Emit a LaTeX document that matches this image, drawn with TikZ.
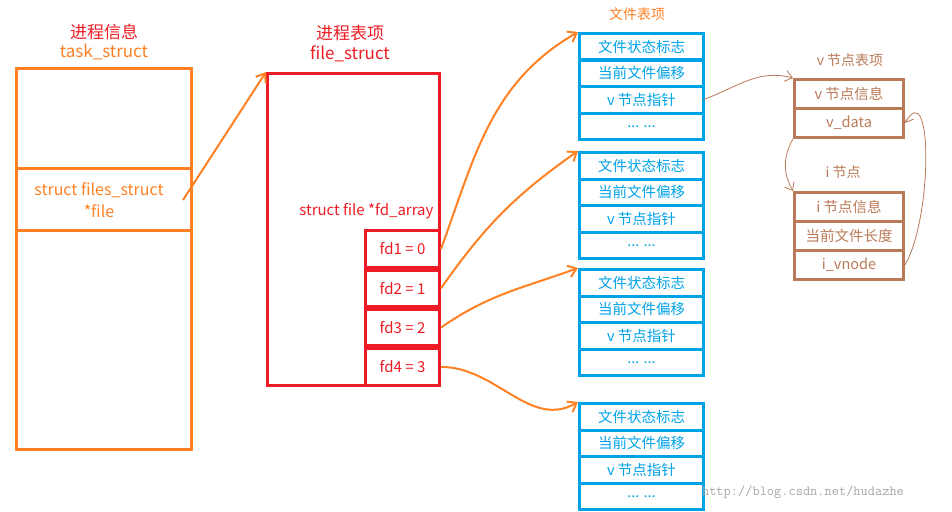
\documentclass[tikz,border=0pt]{standalone}
\usepackage{fontspec}
\setmainfont{Noto Sans CJK SC}
\usepackage{tikz}
\usetikzlibrary{arrows.meta,positioning}
\definecolor{Procorange}{HTML}{FF8124}
\definecolor{Procred}{HTML}{ED1C24}
\definecolor{Fileblue}{HTML}{00A2E8}
\definecolor{Nodebrown}{HTML}{B97A57}
\tikzset{
    cell/.style={draw, line width=3pt, minimum width=124pt, minimum height=26.5pt, inner sep=0pt, font=\fontsize{14.5}{14.5}\selectfont},
    bluecell/.style={cell, Fileblue, text=Fileblue},
    browncell/.style={cell, Nodebrown, text=Nodebrown, minimum width=109pt, minimum height=29pt},
    fdcell/.style={cell, Procred, text=Procred, minimum width=74pt, minimum height=36.3pt, font=\fontsize{15}{15}\selectfont},
    link/.style={Procorange, line width=2pt, -{Straight Barb[length=8pt,width=12pt]}},
    vlink/.style={Nodebrown, line width=0.8pt, -{Straight Barb[length=7pt,width=11pt]}},
}
\begin{document}
\begin{tikzpicture}[x=1pt,y=-1pt]
    \useasboundingbox (0,0) rectangle (952,511);
    % task_struct
    \draw[Procorange, line width=3pt] (16,68) rectangle (191,449);
    \draw[Procorange, line width=3pt] (16,168) -- (191,168) (16,230) -- (191,230);
    \node[Procred, font=\fontsize{17}{17}\selectfont] (tasktitle) at (104,32) {进程信息};
    \node[Procorange, font=\fontsize{17}{17}\selectfont] (taskname) at (104,52) {task\_struct};
    \node[Procorange, font=\fontsize{16}{22}\selectfont, align=center] (filesptr) at (99,200) {struct files\_struct\\*file};
    \coordinate (filesout) at (183,200);
    % file_struct
    \node[draw, Procred, line width=3pt, minimum width=172pt, minimum height=312pt, inner sep=0pt] (filestruct) at (353.5,229.5) {};
    \node[Procred, font=\fontsize{17}{17}\selectfont] (filetitle) at (350,33) {进程表项};
    \node[Procred, font=\fontsize{17}{17}\selectfont] (filename) at (350,54) {file\_struct};
    \node[Procred, font=\fontsize{15}{15}\selectfont, anchor=east] (fdarray) at (437,211) {struct file *fd\_array};
    \foreach \i/\v in {1/0,2/1,3/2,4/3}
        \node[fdcell] (fd\i) at (402.5,{249+(\i-1)*39.3}) {fd\i\ =\ \v};
    % file tables
    \node[Procorange, font=\fontsize{14}{14}\selectfont] (tabletitle) at (637,14) {文件表项};
    \foreach \t/\y in {1/32,2/151,3/268,4/402} {
        \node[bluecell, anchor=north] (t\t a) at (641.5,\y) {文件状态标志};
        \node[bluecell, below=-3pt of t\t a] (t\t b) {当前文件偏移};
        \node[bluecell, below=-3pt of t\t b] (t\t c) {v 节点指针};
        \node[bluecell, below=-3pt of t\t c] (t\t d) {... ...};
    }
    % v node and i node
    \node[Nodebrown, font=\fontsize{14}{14}\selectfont] (vtitle) at (850,60) {v 节点表项};
    \node[browncell, anchor=north] (vinfo) at (849,78) {v 节点信息};
    \node[browncell, below=-3pt of vinfo] (vdata) {v\_data};
    \node[Nodebrown, font=\fontsize{14}{14}\selectfont] (ititle) at (843,172) {i 节点};
    \node[browncell, anchor=north] (iinfo) at (849,191) {i 节点信息};
    \node[browncell, below=-3pt of iinfo] (ilen) {当前文件长度};
    \node[browncell, below=-3pt of ilen] (ivnode) {i\_vnode};
    % links
    \draw[link] (filesout) -- (filestruct.north west);
    \draw[link] (fd1.east) to[out=70, in=210] (t1a.north west);
    \draw[link] (fd2.east) to[out=55, in=215] (t2a.north west);
    \draw[link] (fd3.east) to[out=35, in=200] (t3a.north west);
    \draw[link] (fd4.east) to[out=0, in=210] (t4a.north west);
    \draw[vlink] ([xshift=-2pt]t1c.east) to[out=20, in=165] (vinfo.north west);
    \draw[vlink] (vdata.south west) to[out=240, in=120] (iinfo.north west);
    \draw[vlink] (ivnode.east) to[out=60, in=60] (vdata.east);
    % watermark
    \node[gray!70, font=\ttfamily\fontsize{14}{14}\selectfont] (mark) at (803,492) {http://blog.csdn.net/hudazhe};
\end{tikzpicture}
\end{document}
